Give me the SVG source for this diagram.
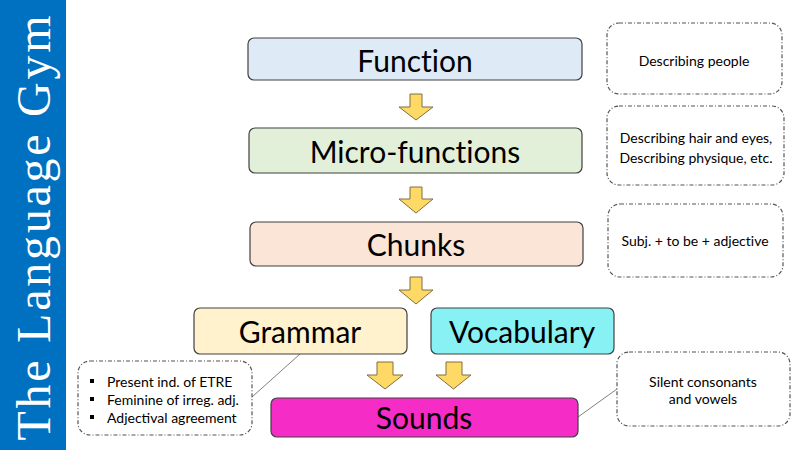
<svg xmlns="http://www.w3.org/2000/svg" width="800" height="450" viewBox="0 0 800 450">
<style>
.box{stroke:#404040;stroke-width:1.2}
.lbl{font-family:Lato,"Liberation Sans",sans-serif;font-size:30px;fill:#000;text-anchor:middle;dominant-baseline:central;font-variant-ligatures:none}
.note{fill:#fff;stroke:#555;stroke-width:1.2;stroke-dasharray:4 2 1 2}
.nt{font-family:Lato,"Liberation Sans",sans-serif;font-size:14px;fill:#000;text-anchor:middle;dominant-baseline:central;font-variant-ligatures:none}
.nl{font-family:Lato,"Liberation Sans",sans-serif;font-size:14px;fill:#000;dominant-baseline:central}
.arr{fill:#FFD966;stroke:#7f6f3f;stroke-width:1}
.con{stroke:#808080;stroke-width:1;fill:none}
</style>
<rect x="0" y="0" width="800" height="450" fill="#fff"/>
<g id="sidebar">
<rect x="0" y="0" width="66" height="450" fill="#0070C0"/>
<text transform="translate(50,228) rotate(-90)" text-anchor="middle" font-family="'Liberation Serif',serif" font-size="48" fill="#fff" textLength="425" lengthAdjust="spacing">The Language Gym</text>
</g>
<g id="connectors">
<path class="arr" d="M410,94 H422 V107 H433 L416,120 L399,107 H410 Z"/>
<path class="arr" d="M410,187 H422 V199 H433 L416,213 L399,199 H410 Z"/>
<path class="arr" d="M410,277 H422 V290 H433 L416,304 L399,290 H410 Z"/>
<path class="arr" d="M377,362 H393 V375 H403 L385,389 L367,375 H377 Z"/>
<path class="arr" d="M446,362 H462 V375 H471 L453.5,389 L436,375 H446 Z"/>
<line class="con" x1="300" y1="354" x2="252" y2="397"/>
<line class="con" x1="578" y1="417" x2="617" y2="389"/>
</g>
<g id="function">
<rect class="box" x="248" y="38" width="334" height="42" rx="6" fill="#DEEBF7"/>
<text class="lbl" x="415" y="60">Function</text>
</g>
<g id="microfunctions">
<rect class="box" x="249" y="128" width="333" height="45" rx="6" fill="#E2F0D9"/>
<text class="lbl" x="415" y="151">Micro-functions</text>
</g>
<g id="chunks">
<rect class="box" x="250" y="222" width="333" height="44" rx="6" fill="#FBE5D6"/>
<text class="lbl" x="416" y="244">Chunks</text>
</g>
<g id="grammar">
<rect class="box" x="194" y="308" width="213" height="46" rx="6" fill="#FFF2CC"/>
<text class="lbl" x="300" y="331">Grammar</text>
</g>
<g id="vocabulary">
<rect class="box" x="431" y="308" width="183" height="46" rx="6" fill="#88F1F4"/>
<text class="lbl" x="522" y="331">Vocabulary</text>
</g>
<g id="sounds">
<rect class="box" x="271" y="398" width="307" height="39" rx="6" fill="#F62CC6"/>
<text class="lbl" x="424" y="417">Sounds</text>
</g>
<g id="note-function">
<rect class="note" x="607" y="23" width="175" height="71" rx="12"/>
<text class="nt" x="694" y="60">Describing people</text>
</g>
<g id="note-micro">
<rect class="note" x="607" y="106" width="177" height="79" rx="12"/>
<text class="nt" x="696" y="137">Describing hair and eyes,</text>
<text class="nt" x="696" y="157">Describing physique, etc.</text>
</g>
<g id="note-chunks">
<rect class="note" x="608" y="204" width="175" height="73" rx="12"/>
<text class="nt" x="695" y="240">Subj. + to be + adjective</text>
</g>
<g id="note-sounds">
<rect class="note" x="617" y="352" width="173" height="74" rx="12"/>
<text class="nt" x="703" y="381">Silent consonants</text>
<text class="nt" x="703" y="398">and vowels</text>
</g>
<g id="note-grammar">
<rect class="note" x="78" y="361" width="174" height="74" rx="12"/>
<rect x="90" y="379" width="4" height="4" fill="#000"/>
<rect x="90" y="397" width="4" height="4" fill="#000"/>
<rect x="90" y="415" width="4" height="4" fill="#000"/>
<text class="nl" x="107" y="381">Present ind. of ETRE</text>
<text class="nl" x="107" y="399">Feminine of irreg. adj.</text>
<text class="nl" x="107" y="417">Adjectival agreement</text>
</g>
</svg>
